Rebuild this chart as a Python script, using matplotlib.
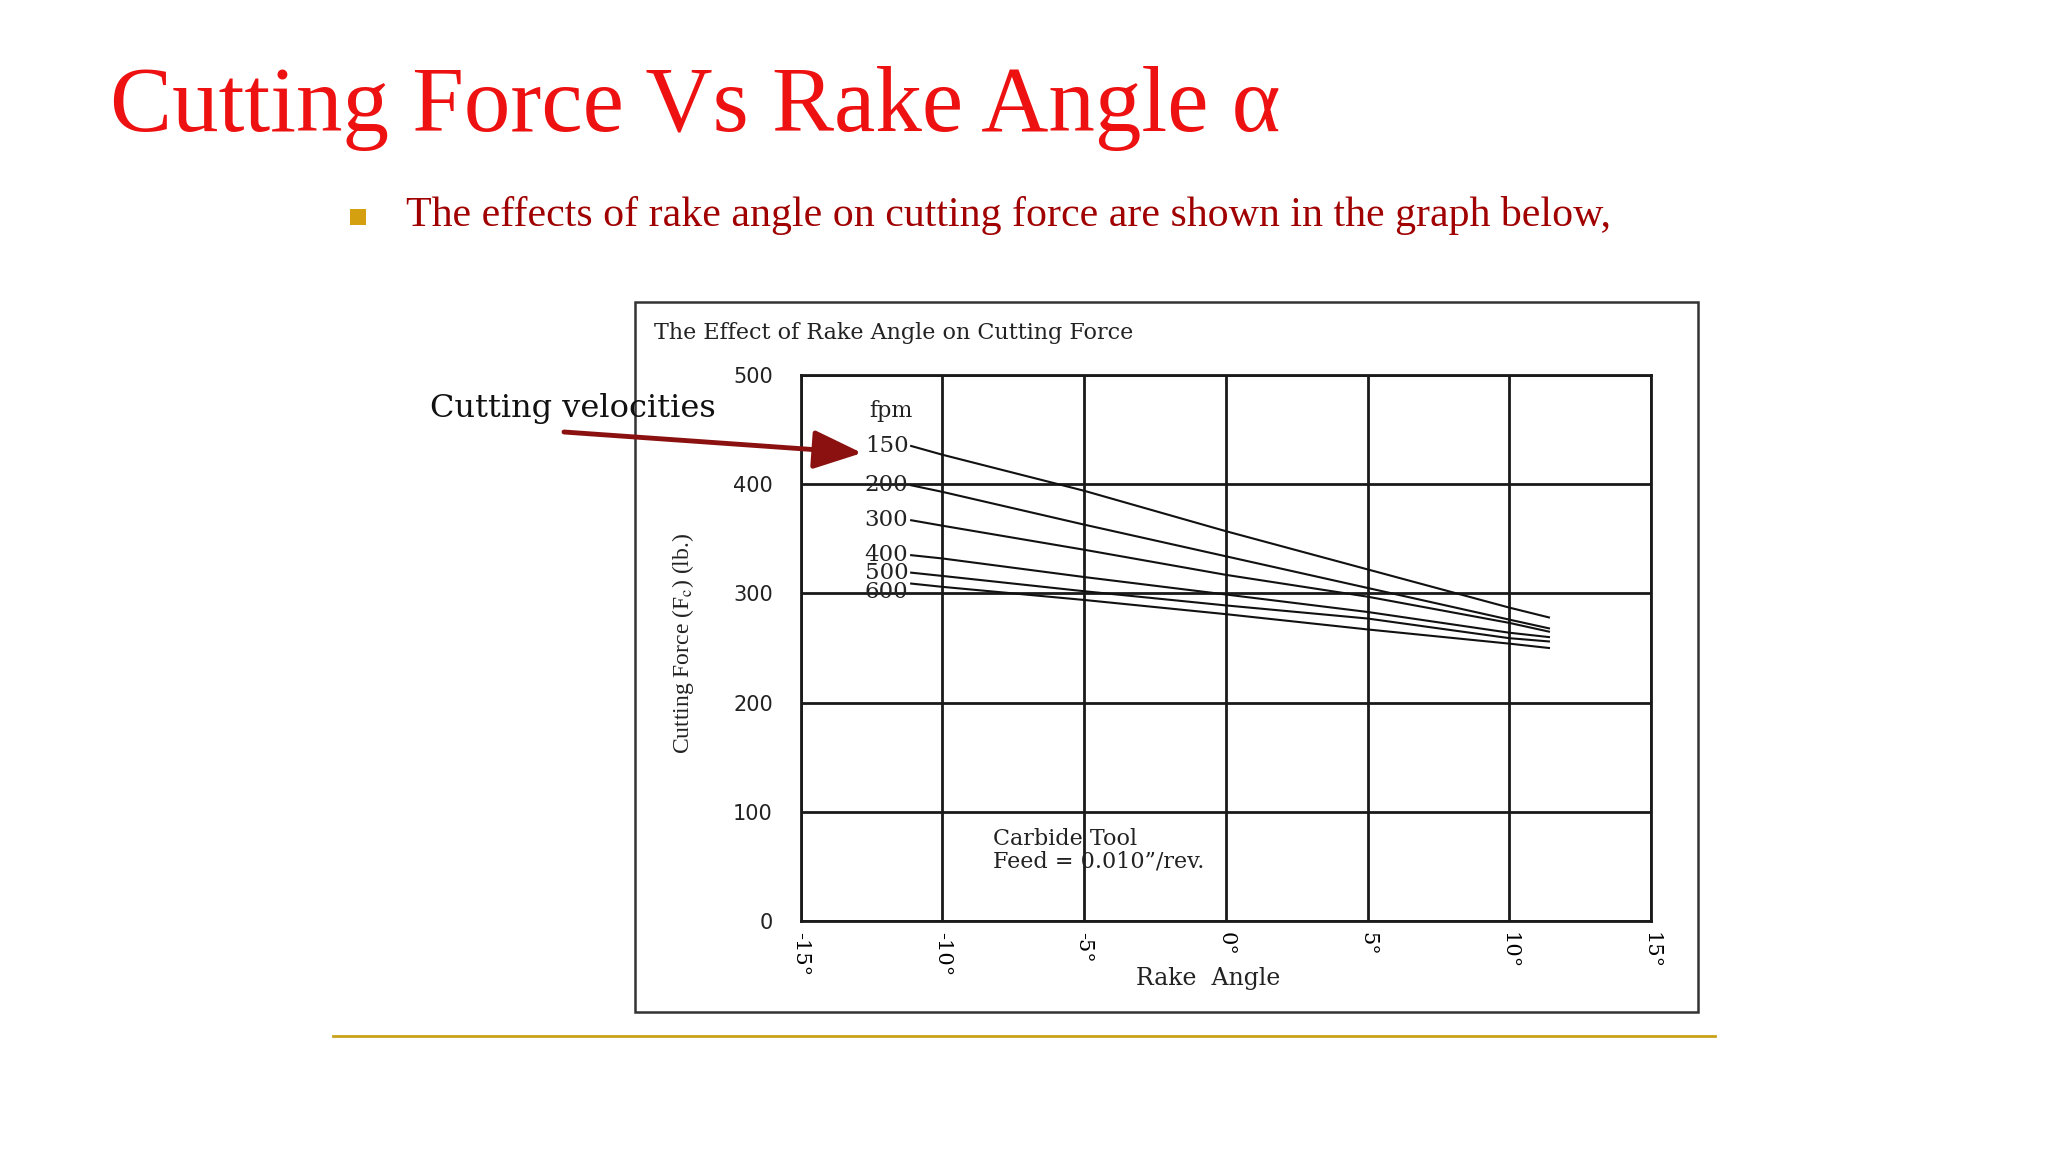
import matplotlib.pyplot as plt
from matplotlib.patches import Rectangle, FancyArrowPatch

plt.rcParams['mathtext.fontset'] = 'stix'

# data
rake_angle = [-11.1, -10, -5, 0, 5, 10, 11.4]
speeds_fpm = [150, 200, 300, 400, 500, 600]
force_150 = [435, 427, 394, 357, 322, 287, 278]
force_200 = [399, 393, 363, 334, 305, 276, 268]
force_300 = [367, 362, 340, 317, 297, 273, 265]
force_400 = [335, 332, 315, 299, 283, 264, 260]
force_500 = [319, 316, 302, 289, 277, 259, 256]
force_600 = [309, 306, 294, 281, 267, 254, 250]
forces = [force_150, force_200, force_300, force_400, force_500, force_600]

x_ticks = [-15, -10, -5, 0, 5, 10, 15]
x_tick_labels = ["-15°", "-10°", "-5°", "0°", "5°", "10°", "15°"]
y_ticks = [0, 100, 200, 300, 400, 500]

W, H = 2048, 1152


def fx(x):
    return x / W


def fy(y):
    return 1 - y / H


fig = plt.figure(figsize=(20.48, 11.52), dpi=100)
fig.patch.set_facecolor("white")

# slide title + bullet
fig.text(fx(110), fy(131), "Cutting Force Vs Rake Angle α", family="Liberation Serif",
         fontsize=67, color="#EE1111", va="baseline", ha="left")
fig.patches.append(Rectangle((fx(350), fy(225)), 16 / W, 16 / H, transform=fig.transFigure,
                             facecolor="#D4A010", edgecolor="none"))
fig.text(fx(406), fy(226), "The effects of rake angle on cutting force are shown in the graph below,",
         family="Liberation Serif", fontsize=30.2, color="#A00000", va="baseline", ha="left")

# bottom rule
fig.add_artist(plt.Line2D([fx(333), fx(1715)], [fy(1036), fy(1036)], transform=fig.transFigure,
                          color="#C9A21A", lw=2))

# frame around the embedded chart
fig.patches.append(Rectangle((fx(635), fy(1012)), (1698 - 635) / W, (1012 - 302) / H,
                             transform=fig.transFigure, facecolor="none", edgecolor="#333333", lw=1.8))

ax = fig.add_axes([fx(800.6), fy(921), (1651 - 800.6) / W, (921 - 375) / H])
ax.set_xlim(-15, 15)
ax.set_ylim(0, 500)
ax.set_xticks(x_ticks)
ax.set_xticklabels(x_tick_labels, rotation=-90, family="DejaVu Serif", fontsize=15, va="top", ha="center")
ax.set_yticks(y_ticks)
ax.set_yticklabels([str(v) for v in y_ticks], family="DejaVu Sans", fontsize=15, color="#222222")
ax.tick_params(length=0)
ax.tick_params(axis="y", pad=20)
ax.tick_params(axis="x", pad=8)
ax.grid(True, color="#1a1a1a", lw=2)
ax.set_axisbelow(True)
for s in ax.spines.values():
    s.set_color("#1a1a1a")
    s.set_linewidth(2)

for speed, f in zip(speeds_fpm, forces):
    ax.plot(rake_angle, f, color="#111111", lw=1.5)
    # the 600 label sits a little under its line, as in the original
    label_y = f[0] - 8 if speed == 600 else f[0]
    ax.text(rake_angle[0] - 0.1, label_y, str(speed), family="DejaVu Serif", fontsize=16.5,
            ha="right", va="center", color="#222222")

ax.text(-11.8, 467, "fpm", family="DejaVu Serif", fontsize=16, ha="center", va="center", color="#222222")
ax.text(-8.2, 65, "Carbide Tool\nFeed = 0.010\u201d/rev.", family="DejaVu Serif", fontsize=16,
        ha="left", va="center", linespacing=1.0, color="#222222")

# chart labels
fig.text(fx(654), fy(333), "The Effect of Rake Angle on Cutting Force", family="DejaVu Serif",
         fontsize=16, ha="left", va="center", color="#222222")
fig.text(fx(1208), fy(978), "Rake  Angle", family="DejaVu Serif", fontsize=17,
         ha="center", va="center", color="#222222")
fig.text(fx(683), fy(643), r"Cutting Force (F$_{\mathrm{c}}$) (lb.)", family="Liberation Serif",
         fontsize=17, rotation=90, ha="center", va="center", color="#222222")

# annotation arrow
fig.text(fx(430), fy(409), "Cutting velocities", family="DejaVu Serif", fontsize=23,
         ha="left", va="center", color="#111111")
arrow = FancyArrowPatch((fx(564), fy(432)), (fx(862), fy(453)), transform=fig.transFigure,
                        arrowstyle="-|>,head_length=1.5,head_width=0.6", color="#8B1111",
                        lw=3.5, mutation_scale=20, shrinkA=0, shrinkB=0)
fig.patches.append(arrow)

fig.savefig("out.png", dpi=100)
